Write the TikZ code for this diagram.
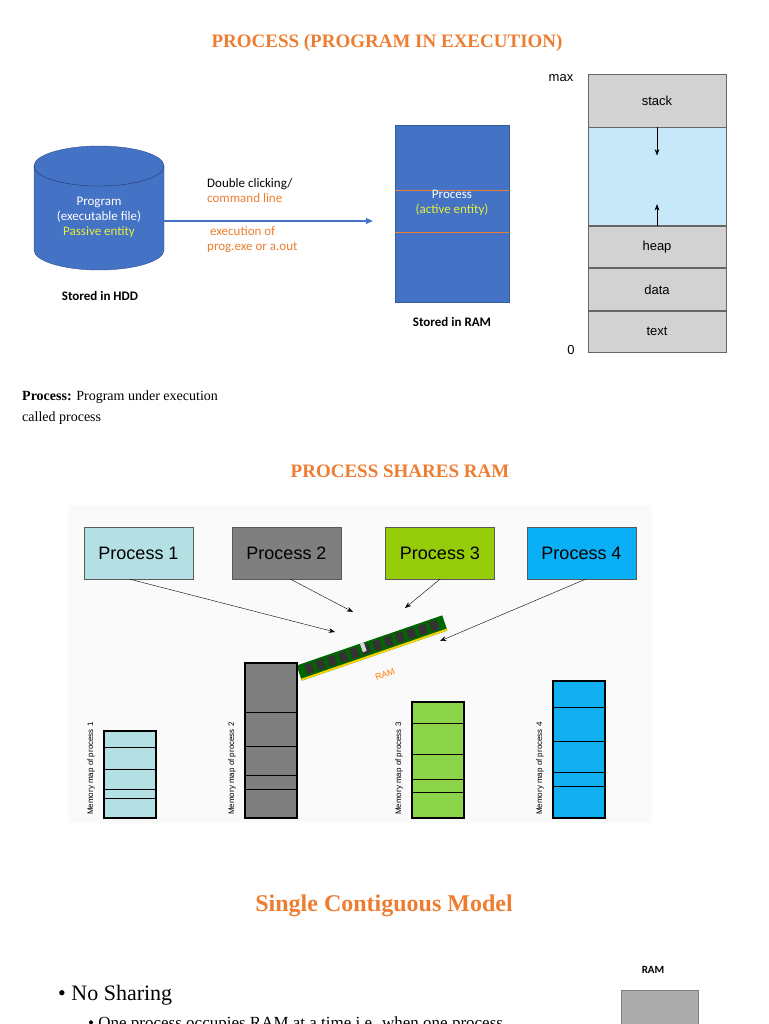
\documentclass[tikz,border=0pt]{standalone}
\usepackage{fontspec}
\setmainfont{Liberation Serif}
\newfontfamily\calib{Carlito}
\newfontfamily\arialf{Liberation Sans}
\usetikzlibrary{positioning,calc,arrows.meta}
\definecolor{orng}{HTML}{ED7D31}
\definecolor{blu}{HTML}{4472C4}
\definecolor{ylw}{HTML}{E6F03C}
\definecolor{lblue}{HTML}{C6E8F8}
\definecolor{pone}{HTML}{B4E0E4}
\definecolor{ptwo}{HTML}{7F7F7F}
\definecolor{pthree}{HTML}{96CC0A}
\definecolor{pthreeb}{HTML}{8CD44A}
\definecolor{pfour}{HTML}{0AB0F5}
\definecolor{pfourb}{HTML}{12AFF0}
\tikzset{
  x=1pt, y=-1pt,
  titletext/.style={font=\fontsize{19}{22}\selectfont\bfseries, text=orng},
  smalltext/.style={font=\calib\fontsize{13}{15}\selectfont, align=center, inner sep=1pt},
  segfont/.style={font=\arialf\fontsize{13}{14}\selectfont},
  segbox/.style={draw=gray!80!black, fill=gray!35, line width=0.8pt, minimum width=138pt, inner sep=0pt, segfont},
  procbox/.style={draw=gray!70!black, minimum width=109pt, minimum height=52pt, inner sep=0pt, font=\arialf\fontsize{18}{20}\selectfont},
  maplabel/.style={font=\arialf\fontsize{8}{9}\selectfont, rotate=90, anchor=west, inner sep=0pt},
  maparrow/.style={-{Stealth[length=2.2mm]}, thin},
  mapbox/.style={draw=black, line width=1.1pt},
}
\begin{document}
\begin{tikzpicture}
\useasboundingbox (0,0) rectangle (768,1024);
% Part 1: program and process
\node[titletext] (title1) at (387,43) {PROCESS (PROGRAM IN EXECUTION)};

% disk cylinder
\draw[blu!70!black, fill=blu] (34,166) -- (34,250) arc[start angle=180, end angle=360, x radius=65, y radius=-20] -- (164,166) arc[start angle=0, end angle=180, x radius=65, y radius=-20] -- cycle;
\draw[blu!50!black, thin] (34,166) arc[start angle=180, end angle=360, x radius=65, y radius=-20];
\coordinate (hdd) at (164,221);
\node[smalltext, text=white] (prog) at (99,217) {Program\\(executable file)\\\textcolor{ylw}{Passive entity}};
\node[smalltext, font=\calib\bfseries\fontsize{13}{15}\selectfont] (hddlbl) at (100,296) {Stored in HDD};

\node[draw=blu!80!black, fill=blu, minimum width=114pt, minimum height=177pt, inner sep=0pt] (ram) at (452,213.5) {};
\draw[orng, thin] (395,190) -- (509,190) (395,232) -- (509,232);
\node[smalltext, text=white] (proc) at (452,203) {Process\\\textcolor{ylw}{(active entity)}};
\node[smalltext, font=\calib\bfseries\fontsize{13}{15}\selectfont] (ramlbl) at (452,322) {Stored in RAM};

\coordinate (arrowend) at (373,221);
\draw[blu, line width=1.5pt, -{Triangle[length=2.5mm,width=2mm]}] (hdd) -- (arrowend);
\node[smalltext, align=left, anchor=west] (dbl) at (206,191) {Double clicking/\\\textcolor{orng}{command line}};
\node[smalltext, align=left, anchor=west, text=orng] (exe) at (206,240) {\ execution of\\prog.exe or a.out};

% memory layout
\node[segbox, minimum height=53pt] (stack) at (657,100.5) {stack};
\node[segbox, fill=lblue, minimum height=98pt, below=0pt of stack] (free) {};
\node[segbox, minimum height=41pt, below=0pt of free] (heap) {heap};
\node[segbox, minimum height=42pt, below=0pt of heap] (data) {data};
\node[segbox, minimum height=41pt, below=0pt of data] (text) {text};
\draw[maparrow] (free.north) -- ++(0,28);
\draw[maparrow] (free.south) -- ++(0,-22);
\node[segfont] (max) at (561,78) {max};
\node[segfont] (zero) at (571,350) {0};

\node[anchor=north west, align=left, font=\fontsize{14}{21}\selectfont, inner sep=0pt] (def) at (22,391) {\textbf{Process:} Program under execution\\called process};

% Part 2: processes share RAM
\node[titletext] (title2) at (400,471) {PROCESS SHARES RAM};
\fill[gray!4] (68,505) rectangle (652,823);

\node[procbox, fill=pone] (p1) at (138.5,553) {Process 1};
\node[procbox, fill=ptwo] (p2) at (286.5,553) {Process 2};
\node[procbox, fill=pthree] (p3) at (440,553) {Process 3};
\node[procbox, fill=pfour] (p4) at (581.5,553) {Process 4};

% RAM stick
\begin{scope}[shift={(372,648)}, rotate=19]
  \fill[green!40!black] (-77,-8) rectangle (77,8);
  \fill[yellow!70!orange] (-77,6) rectangle (77,8);
  \foreach \i in {-70,-58,...,70} \fill[black!80] (\i,-6) rectangle ++(8,10);
  \fill[gray!30] (-10,-8) rectangle (-6,1);
\end{scope}
\node[font=\arialf\fontsize{9}{10}\selectfont, text=orange, rotate=19] (ramtxt) at (385,674) {RAM};

\draw[maparrow] (p1.south west) ++(46,0) -- (335,632);
\draw[maparrow] (p2.south) ++(4,0) -- (353,612);
\draw[maparrow] (p3.south) -- (405,608);
\draw[maparrow] (p4.south) ++(4,0) -- (440,641);

% memory maps
\foreach \n/\xl/\yt/\col/\lines in {1/104/731/pone/{747,769,789,798},
                                    2/245/663/ptwo/{712,746,775,789},
                                    3/412/702/pthreeb/{723,754,779,792},
                                    4/553/681/pfourb/{707,741,772,786}}{
  \draw[mapbox, fill=\col] (\xl,\yt) rectangle ++(52,818-\yt);
  \foreach \l in \lines \draw[thin] (\xl,\l) -- ++(52,0);
  \node[maplabel] (ml\n) at (\xl-13,815) {Memory map of process \n};
}

% Part 3: single contiguous model
\node[titletext, font=\fontsize{24}{28}\selectfont\bfseries] (title3) at (384,906) {Single Contiguous Model};
\node[font=\calib\bfseries\fontsize{11}{12}\selectfont] (ramhdr) at (653,970) {RAM};
\fill[gray!65, draw=gray] (621,990) rectangle (698,1030);
\node[anchor=west, font=\fontsize{22}{26}\selectfont, inner sep=0pt] (b1) at (58,995) {\textbullet\ No Sharing};
\node[anchor=west, font=\fontsize{17}{20}\selectfont, inner sep=0pt] (b2) at (88,1024) {\textbullet\ One process occupies RAM at a time i.e. when one process};
\end{tikzpicture}
\end{document}
